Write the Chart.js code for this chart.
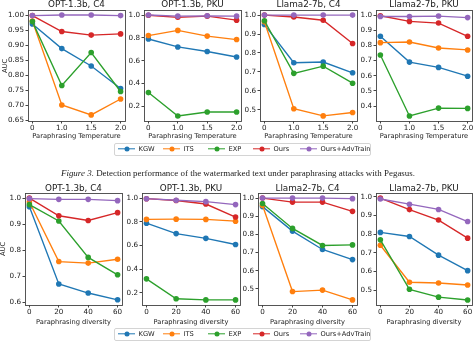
<!DOCTYPE html>
<html>
<head>
<meta charset="utf-8">
<script src="https://cdn.jsdelivr.net/npm/chart.js@4/dist/chart.umd.min.js"></script>
<style>
body{margin:0;background:#fff;width:474px;height:341px;position:relative;overflow:hidden;font-family:"DejaVu Sans",sans-serif;color:#1a1a1a}
canvas{position:absolute}
.t{position:absolute;white-space:nowrap;transform:translate(-50%,-50%);line-height:1}
.ttl{font-size:8.8px}
.xl{font-size:6.7px}
.yl{font-size:6.7px;transform:translate(-50%,-50%) rotate(-90deg)}
.lg{position:absolute;border:1px solid #d4d4d4;border-radius:2px;background:#fff}
.li{position:absolute;font-size:6.7px;line-height:1;white-space:nowrap;transform:translateY(-50%)}
.ln{position:absolute;height:1.4px;transform:translateY(-50%)}
.dot{position:absolute;width:5px;height:5px;border-radius:50%;transform:translate(-50%,-50%)}
.cap{position:absolute;font-family:"Liberation Serif",serif;font-size:8.95px;white-space:nowrap;transform:translate(-50%,-50%);line-height:1;color:#1a1a1a}
</style>
</head>
<body>
<script>
var methods = ['KGW', 'ITS', 'EXP', 'Ours', 'Ours+AdvTrain'];
var colors = ['#1f77b4', '#ff7f0e', '#2ca02c', '#d62728', '#9467bd'];
var titles = ['OPT-1.3b, C4', 'OPT-1.3b, PKU', 'Llama2-7b, C4', 'Llama2-7b, PKU'];
var tempTicks = ['0', '1.0', '1.5', '2.0'];
var divTicks = ['0', '20', '40', '60'];

// rows follow the order of methods
var tempOptC4 = [
    [0.970, 0.888, 0.830, 0.755],
    [0.980, 0.700, 0.667, 0.720],
    [0.978, 0.765, 0.875, 0.745],
    [0.998, 0.945, 0.933, 0.937],
    [0.998, 1.000, 1.000, 0.998]];
var tempOptPku = [
    [0.790, 0.720, 0.680, 0.632],
    [0.820, 0.865, 0.815, 0.785],
    [0.320, 0.115, 0.150, 0.150],
    [0.998, 0.980, 0.990, 0.955],
    [1.000, 0.990, 0.993, 0.990]];
var tempLlamaC4 = [
    [0.950, 0.748, 0.752, 0.695],
    [0.965, 0.505, 0.467, 0.485],
    [0.970, 0.692, 0.730, 0.640],
    [1.000, 0.990, 0.973, 0.850],
    [1.000, 1.000, 1.000, 1.000]];
var tempLlamaPku = [
    [0.860, 0.690, 0.655, 0.597],
    [0.818, 0.822, 0.783, 0.770],
    [0.737, 0.335, 0.387, 0.385],
    [0.995, 0.958, 0.947, 0.860],
    [0.990, 0.990, 0.993, 0.983]];

var divOptC4 = [
    [0.967, 0.670, 0.635, 0.609],
    [0.985, 0.756, 0.750, 0.765],
    [0.975, 0.912, 0.772, 0.705],
    [1.000, 0.932, 0.914, 0.944],
    [0.998, 0.995, 0.995, 0.990]];
var divOptPku = [
    [0.788, 0.700, 0.660, 0.608],
    [0.820, 0.822, 0.820, 0.805],
    [0.318, 0.150, 0.140, 0.140],
    [0.995, 0.980, 0.950, 0.840],
    [0.995, 0.982, 0.970, 0.945]];
var divLlamaC4 = [
    [0.953, 0.818, 0.717, 0.661],
    [0.960, 0.485, 0.493, 0.439],
    [0.970, 0.833, 0.739, 0.742],
    [1.000, 0.978, 0.978, 0.927],
    [1.000, 1.000, 1.000, 0.997]];
var divLlamaPku = [
    [0.809, 0.787, 0.687, 0.604],
    [0.740, 0.542, 0.538, 0.527],
    [0.769, 0.504, 0.462, 0.447],
    [0.993, 0.931, 0.875, 0.778],
    [0.988, 0.960, 0.932, 0.867]];

// y tick labels per panel
var yTicksA = [0.65, 0.70, 0.75, 0.80, 0.85, 0.90, 0.95, 1.00];
var yTicksB = [0.2, 0.4, 0.6, 0.8, 1.0];
var yTicksC = [0.5, 0.6, 0.7, 0.8, 0.9, 1.0];
var yTicksD = [0.4, 0.5, 0.6, 0.7, 0.8, 0.9, 1.0];
var yTicksE = [0.6, 0.7, 0.8, 0.9, 1.0];

var boxPlugin = {
    id: 'box',
    afterDraw: function(chart) {
        var a = chart.chartArea, ctx = chart.ctx;
        ctx.save();
        ctx.strokeStyle = '#444';
        ctx.lineWidth = 0.9;
        ctx.strokeRect(Math.round(a.left) + 0.5, Math.round(a.top) + 0.5, Math.round(a.right - a.left), Math.round(a.bottom - a.top));
        ctx.restore();
    }
};

function text(cls, str, x, y) {
    var d = document.createElement('div');
    d.className = 't ' + cls;
    d.textContent = str;
    d.style.left = x + 'px';
    d.style.top = y + 'px';
    document.body.appendChild(d);
}

function panel(box, labels, rows, yTicks, yMin, yMax, dec) {
    var w = box[1] - box[0], h = box[3] - box[2];
    var c = document.createElement('canvas');
    c.width = w + 36;
    c.height = h + 24;
    c.style.left = (box[0] - 28) + 'px';
    c.style.top = (box[2] - 10) + 'px';
    document.body.appendChild(c);
    var tickFont = {family: 'DejaVu Sans', size: 7.2};
    new Chart(c, {
        type: 'line',
        data: {
            datasets: rows.map(function(r, i) {
                return {
                    label: methods[i],
                    data: r.map(function(v, j) { return {x: j, y: v}; }),
                    borderColor: colors[i],
                    backgroundColor: colors[i],
                    pointBackgroundColor: colors[i],
                    pointBorderWidth: 0,
                    pointRadius: 2.8,
                    borderWidth: 1.35,
                    order: 5 - i,
                    clip: false
                };
            })
        },
        options: {
            responsive: false,
            animation: false,
            events: [],
            layout: {padding: {left: 0, top: 10, right: 8, bottom: 0}},
            plugins: {legend: {display: false}, tooltip: {enabled: false}},
            scales: {
                x: {
                    type: 'linear', min: -0.15, max: 3.15,
                    afterBuildTicks: function(s) { s.ticks = [0, 1, 2, 3].map(function(v) { return {value: v}; }); },
                    afterFit: function(s) { s.height = 14; },
                    border: {display: false},
                    grid: {drawOnChartArea: false, drawTicks: true, tickLength: 2.5, color: '#444', tickColor: '#444'},
                    ticks: {font: tickFont, color: '#1a1a1a', padding: 0, maxRotation: 0, autoSkip: false,
                        callback: function(v) { return labels[v]; }}
                },
                y: {
                    min: yMin, max: yMax,
                    afterBuildTicks: function(s) { s.ticks = yTicks.map(function(v) { return {value: v}; }); },
                    afterFit: function(s) { s.width = 28; },
                    border: {display: false},
                    grid: {drawOnChartArea: false, drawTicks: true, tickLength: 2.5, color: '#444', tickColor: '#444'},
                    ticks: {font: tickFont, color: '#1a1a1a', padding: 1.5, autoSkip: false,
                        callback: function(v) { return v.toFixed(dec); }}
                }
            }
        },
        plugins: [boxPlugin]
    });
}

function legend(y) {
    var lg = document.createElement('div');
    lg.className = 'lg';
    lg.style.left = '114px'; lg.style.top = (y - 6) + 'px';
    lg.style.width = '255px'; lg.style.height = '11px';
    document.body.appendChild(lg);
    var xs = [118, 163, 208, 253, 300];
    methods.forEach(function(m, i) {
        var ln = document.createElement('div');
        ln.className = 'ln';
        ln.style.left = xs[i] + 'px'; ln.style.top = y + 'px'; ln.style.width = '17px';
        ln.style.background = colors[i];
        document.body.appendChild(ln);
        var d = document.createElement('div');
        d.className = 'dot';
        d.style.left = (xs[i] + 8.5) + 'px'; d.style.top = y + 'px';
        d.style.background = colors[i];
        document.body.appendChild(d);
        var t = document.createElement('div');
        t.className = 'li';
        t.textContent = m;
        t.style.left = (xs[i] + 20.5) + 'px'; t.style.top = y + 'px';
        document.body.appendChild(t);
    });
}

// top row: paraphrasing temperature
var topBoxes = [[28, 125, 10, 121], [144, 241, 10, 121], [260, 357, 10, 121], [376, 472, 10, 121]];
panel(topBoxes[0], tempTicks, tempOptC4, yTicksA, 0.6467, 1.0167, 2);
panel(topBoxes[1], tempTicks, tempOptPku, yTicksB, 0.071, 1.044, 1);
panel(topBoxes[2], tempTicks, tempLlamaC4, yTicksC, 0.44, 1.027, 1);
panel(topBoxes[3], tempTicks, tempLlamaPku, yTicksD, 0.302, 1.033, 1);

// bottom row: paraphrasing diversity
var botBoxes = [[25, 122, 193, 305], [142, 240, 193, 305], [258, 357, 193, 305], [376, 472, 193, 305]];
panel(botBoxes[0], divTicks, divOptC4, yTicksE, 0.589, 1.0195, 1);
panel(botBoxes[1], divTicks, divOptPku, yTicksB, 0.097, 1.043, 1);
panel(botBoxes[2], divTicks, divLlamaC4, yTicksC, 0.411, 1.028, 1);
panel(botBoxes[3], divTicks, divLlamaPku, yTicksC, 0.42, 1.02, 1);

topBoxes.forEach(function(b, i) {
    text('ttl', titles[i], (b[0] + b[1]) / 2, 4);
    text('xl', 'Paraphrasing Temperature', (b[0] + b[1]) / 2, 136);
});
botBoxes.forEach(function(b, i) {
    text('ttl', titles[i], (b[0] + b[1]) / 2, 188);
    text('xl', 'Paraphrasing diversity', (b[0] + b[1]) / 2, 321.5);
});
text('yl', 'AUC', 5, 66);
text('yl', 'AUC', 3, 249);

legend(149);
legend(334);

var cap = document.createElement('div');
cap.className = 'cap';
cap.innerHTML = '<i>Figure 3.</i> Detection performance of the watermarked text under paraphrasing attacks with Pegasus.';
cap.style.left = '238px'; cap.style.top = '173px';
document.body.appendChild(cap);
</script>
</body>
</html>
